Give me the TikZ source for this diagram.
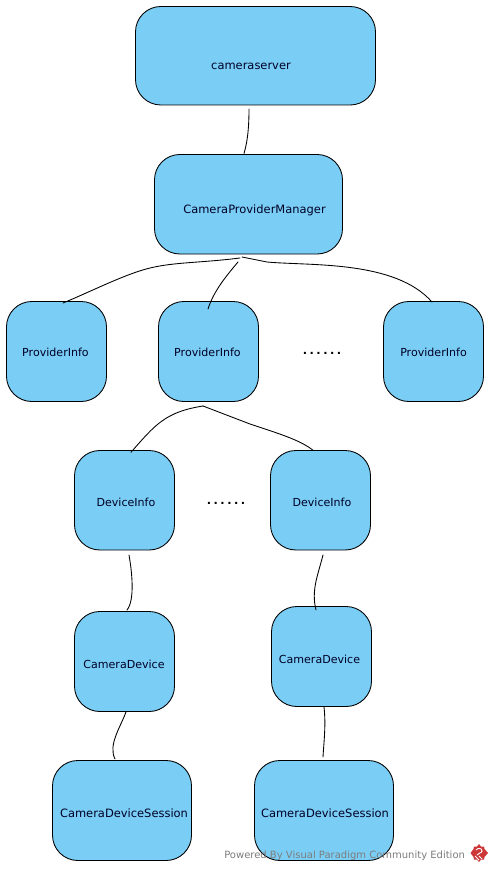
\documentclass[tikz,border=0pt]{standalone}
\usepackage{fontspec}
\setmainfont{DejaVu Sans}
\definecolor{boxblue}{RGB}{122,206,245}
\definecolor{wmgrey}{RGB}{125,125,125}
\definecolor{wmred}{RGB}{205,55,55}
\newcommand{\dotrow}{.\kern1.9pt.\kern1.9pt.\kern1.9pt.\kern1.9pt.\kern1.9pt.}
\tikzset{
  box/.style={draw=black,fill=boxblue,line width=0.65pt,rounded corners=19pt,inner sep=0pt,outer sep=0pt},
  lbl/.style={inner sep=0pt,anchor=base,font=\fontsize{8.6pt}{10pt}\selectfont,text=black!85!blue},
  lblsmall/.style={lbl,font=\fontsize{8.3pt}{10pt}\selectfont},
  dotlbl/.style={inner sep=0pt,anchor=base,font=\fontsize{8.5pt}{10pt}\selectfont\bfseries,text=black},
  wire/.style={draw=black,line width=0.65pt,line cap=round},
}
\newcommand{\boxat}[4]{\node[box,minimum width=#3*0.75pt,minimum height=#4*0.75pt] (#1) at (#2) {};}
\begin{document}
\begin{tikzpicture}[x=0.75pt,y=-0.75pt]
\useasboundingbox (0,0) rectangle (493,870);
\fill[white] (0,0) rectangle (493,870);
\boxat{server}{255.5,55.75}{240}{98.5}
\boxat{mgr}{248.5,204.25}{188}{99.5}
\boxat{pa}{56.5,351.5}{100}{100}
\boxat{pb}{208.5,351.5}{100}{100}
\boxat{pc}{433.5,351.5}{100}{100}
\boxat{da}{124.5,500.25}{100}{99.5}
\boxat{db}{320.5,500.25}{100}{99.5}
\boxat{ca}{124.5,661.5}{100}{100}
\boxat{cb}{321.5,656.5}{100}{100}
\boxat{sa}{122,810.5}{139}{100}
\boxat{sb}{324,810.5}{139}{100}
\node[lbl] (tserver) at (251,69.5) {cameraserver};
\node[lbl] (tmgr) at (254.5,213) {CameraProviderManager};
\node[lblsmall] (tpa) at (55.5,356) {ProviderInfo};
\node[lblsmall] (tpb) at (207.5,356) {ProviderInfo};
\node[lblsmall] (tpc) at (433.5,356) {ProviderInfo};
\node[lblsmall] (tda) at (126,506) {DeviceInfo};
\node[lblsmall] (tdb) at (322,506) {DeviceInfo};
\node[lblsmall] (tca) at (124,668) {CameraDevice};
\node[lblsmall] (tcb) at (319.5,663) {CameraDevice};
\node[lbl] (tsa) at (124,817) {CameraDeviceSession};
\node[lbl] (tsb) at (325,817) {CameraDeviceSession};
\node[dotlbl] (dotsa) at (322,354) {\dotrow};
\node[dotlbl] (dotsb) at (226,504) {\dotrow};
\draw[wire] ([shift={(-6.5,4)}]server.south) .. controls (249,125) and (248,140) .. ([shift={(-4.5,-1)}]mgr.north);
\draw[wire] ([shift={(-8.5,4)}]mgr.south) .. controls (200,263) and (175,262) .. (150,268) .. controls (125,274) and (90,292) .. ([shift={(6.5,1.5)}]pa.north);
\draw[wire] ([shift={(-10.5,8)}]mgr.south) .. controls (228,274) and (214,290) .. ([shift={(-0.5,7.5)}]pb.north);
\draw[wire] ([shift={(-6.5,3)}]mgr.south) -- (267,262) .. controls (310,266) and (395,260) .. ([shift={(-1.5,0.5)}]pc.north);
\draw[wire] ([shift={(-5.5,4.5)}]pb.south) .. controls (165,412) and (155,425) .. ([shift={(6.5,1.75)}]da.north);
\draw[wire] ([shift={(-5.5,4.5)}]pb.south) -- (250,424) .. controls (280,434) and (300,440) .. ([shift={(-7.5,-0.25)}]db.north);
\draw[wire] ([shift={(4.5,5)}]da.south) .. controls (132,572) and (135,600) .. ([shift={(2.5,-1.5)}]ca.north);
\draw[wire] ([shift={(2.5,5)}]db.south) .. controls (318,575) and (311,590) .. ([shift={(-5.5,3.5)}]cb.north);
\draw[wire] ([shift={(1.5,0.5)}]ca.south) .. controls (120,728) and (108,745) .. ([shift={(-7,-1.5)}]sa.north);
\draw[wire] ([shift={(2.5,0.5)}]cb.south) .. controls (326,725) and (324,740) .. ([shift={(-1,-3.5)}]sb.north);
\node[inner sep=0pt,anchor=base west,font=\fontsize{7.5pt}{10pt}\selectfont,text=wmgrey] (wm) at (224,858) {Powered By Visual Paradigm Community Edition};
\fill[wmred] (479,844) -- (481,846.5) -- (484,846.5) -- (484.5,849) -- (488,853) -- (484.5,857) -- (484,859.5) -- (481,859.5) -- (479,862) -- (477,859.5) -- (474,859.5) -- (473.5,857) -- (470.5,853) -- (473.5,849) -- (474,846.5) -- (477,846.5) -- cycle;
\draw[white,line width=0.7pt] (476,850) .. controls (478,847.5) and (482,848) .. (482,851) .. controls (482,853) and (478,853) .. (477,855);
\draw[white,line width=0.6pt] (475,856) -- (479,860) (479,856) -- (482,859);
\end{tikzpicture}
\end{document}
